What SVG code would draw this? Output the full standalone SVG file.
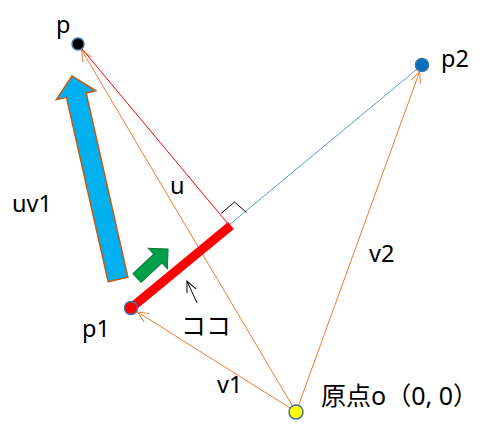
<svg xmlns="http://www.w3.org/2000/svg" width="485" height="431" viewBox="0 0 485 431">
<defs>
<style>
text{font-family:"Noto Sans","Noto Sans CJK JP",sans-serif;fill:#000;}
.lbl{font-size:23.5px;}
.jp{font-size:25px;}
.or{stroke:#ED7D31;stroke-width:1;fill:none;}
.pt{stroke:#41719C;stroke-width:1.5;}
</style>
<marker id="ao" markerUnits="userSpaceOnUse" markerWidth="14" markerHeight="14" refX="11" refY="5" orient="auto" viewBox="0 0 14 10">
<path d="M0,0 L11,5 L0,10" fill="none" stroke="#ED7D31" stroke-width="1"/>
</marker>
<marker id="ab" markerUnits="userSpaceOnUse" markerWidth="14" markerHeight="14" refX="11" refY="5" orient="auto" viewBox="0 0 14 10">
<path d="M0,0 L11,5 L0,10" fill="none" stroke="#000" stroke-width="1"/>
</marker>
</defs>
<rect width="485" height="431" fill="#fff"/>
<g id="connectors">
<line x1="78" y1="44" x2="229" y2="225" stroke="#FF0000" stroke-width="1"/>
<line x1="229" y1="225" x2="422" y2="65" stroke="#5B9BD5" stroke-width="1"/>
<line x1="290" y1="408" x2="137.5" y2="312" class="or" marker-end="url(#ao)"/>
<line x1="298.5" y1="405.5" x2="419.6" y2="71.6" class="or" marker-end="url(#ao)"/>
<line x1="292.5" y1="406" x2="81.6" y2="50" class="or" marker-end="url(#ao)"/>
<line x1="131" y1="308" x2="231" y2="225.5" stroke="#FF0000" stroke-width="9"/>
<polyline points="221,213.5 234.5,202 246.5,212.5" fill="none" stroke="#000" stroke-width="1"/>
<line x1="197" y1="303" x2="187" y2="281" stroke="#000" stroke-width="1" marker-end="url(#ab)"/>
</g>
<g id="uv1-arrow">
<polygon transform="translate(118,279.5) rotate(-12.74)" points="-10.1,0 10.1,0 10.1,-189 20,-189 0,-208.6 -20.5,-189 -10.1,-189" fill="#00B0F0" stroke="#C55A11" stroke-width="1.5"/>
</g>
<g id="green-arrow">
<polygon transform="translate(137,278) rotate(-43)" points="0,-6 28.5,-6 28.5,-14 42.5,0 28.5,14 28.5,6 0,6" fill="#00A04A" stroke="#0E7A38" stroke-width="1"/>
</g>
<g id="node-p">
<circle cx="78" cy="44" r="6" fill="#000" class="pt"/>
<text x="56" y="33" class="lbl">p</text>
</g>
<g id="node-p2">
<circle cx="422" cy="65" r="6.5" fill="#0070C0" class="pt"/>
<text x="441" y="67" class="lbl">p2</text>
</g>
<g id="node-p1">
<circle cx="131" cy="308" r="6.5" fill="#FF0000" class="pt"/>
<text x="82" y="337" class="lbl">p1</text>
</g>
<g id="node-o">
<circle cx="296" cy="412" r="7" fill="#FFFF00" class="pt"/>
<text x="321" y="405" class="jp">原点o（0, 0）</text>
</g>
<g id="labels">
<text x="12" y="212" class="lbl">uv1</text>
<text x="170" y="194" class="lbl">u</text>
<text x="369" y="262" class="lbl">v2</text>
<text x="217" y="393" class="lbl">v1</text>
<text x="181" y="335" class="jp">ココ</text>
</g>
</svg>
